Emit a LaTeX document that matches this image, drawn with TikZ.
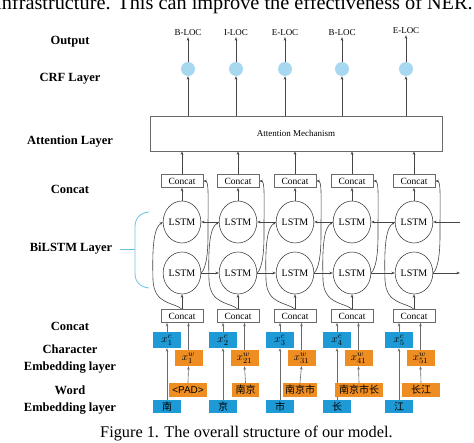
\documentclass[tikz,border=0pt]{standalone}
\usepackage{fontspec}
\setmainfont{Liberation Serif}
\newfontfamily\cjk{Noto Sans CJK SC}
\newfontfamily\sansf{Liberation Sans}
\usetikzlibrary{arrows.meta,backgrounds,shapes.geometric}
\definecolor{cblue}{HTML}{1E9BD7}
\definecolor{corange}{HTML}{EE8E22}
\definecolor{crfc}{HTML}{A8D8F0}
\definecolor{bracec}{HTML}{6EC1E4}
\definecolor{ln}{HTML}{454545}
\definecolor{lng}{HTML}{6A6A6A}
\begin{document}
\begin{tikzpicture}[x=1pt,y=-1pt,
 arr/.style={draw=ln, line width=0.6pt, -{Stealth[length=3.5pt,width=2.6pt]}},
 garr/.style={draw=lng, line width=0.6pt, -{Stealth[length=3.5pt,width=2.6pt]}},
 concatbox/.style={draw=lng, line width=0.6pt, minimum width=42pt, minimum height=13pt, inner sep=0pt, font=\fontsize{9.5}{10}\selectfont, fill=white},
 lstm/.style={ellipse, draw=ln, line width=0.6pt, minimum width=37pt, minimum height=42pt, inner sep=0pt, font=\fontsize{10}{11}\selectfont, fill=white},
 crf/.style={circle, fill=crfc, minimum size=14pt, inner sep=0pt},
 lbl/.style={font=\bfseries\fontsize{12.5}{16.5}\selectfont, align=center, inner sep=0pt},
 charbox/.style={fill=cblue, minimum width=28pt, minimum height=16pt, inner sep=0pt, font=\fontsize{11}{12}\selectfont},
 wordvec/.style={fill=corange, minimum width=28pt, minimum height=16pt, inner sep=0pt, font=\fontsize{11}{12}\selectfont},
 wordbox/.style={fill=corange, minimum height=14pt, inner sep=0pt, font=\cjk\fontsize{10}{11}\selectfont},
 charin/.style={fill=cblue, minimum width=28pt, minimum height=13pt, inner sep=0pt, font=\cjk\fontsize{10}{11}\selectfont},
 tag/.style={font=\fontsize{9}{10}\selectfont, inner sep=1pt},
 attbox/.style={draw=lng, line width=0.6pt, minimum width=292pt, minimum height=35pt, inner sep=0pt, font=\fontsize{9}{10}\selectfont},
 toptxt/.style={font=\fontsize{20.3}{22}\selectfont, inner sep=0pt},
 captxt/.style={font=\fontsize{16.3}{18}\selectfont, inner sep=0pt}
]
\useasboundingbox (0,0) rectangle (474,443);
\begin{scope}
\clip (0,0) rectangle (474,443);
\node[toptxt, anchor=base west] (toptext) at (-4,9.5) {infrastructure. This can improve the effectiveness of NER.};
\end{scope}
\node[captxt, anchor=base west] (caption) at (100,438) {Figure 1. The overall structure of our model.};

% left labels
\node[lbl] (lout) at (70,42) {Output};
\node[lbl] (lcrf) at (70,79) {CRF Layer};
\node[lbl] (latt) at (70,142) {Attention Layer};
\node[lbl] (lcat1) at (70,189) {Concat};
\node[lbl] (lbil) at (71,249) {BiLSTM Layer};
\node[lbl] (lcat2) at (70,326) {Concat};
\node[lbl] (lchar) at (70,359) {Character\\Embedding layer};
\node[lbl] (lword) at (70,400) {Word\\Embedding layer};

% brace
\draw[bracec, line width=0.8pt] (149,212) .. controls (140,213) and (135,218) .. (135,227) -- (135,273) .. controls (135,282) and (140,287) .. (149,288);
\coordinate (bracetip) at (135,249);
\coordinate (bracestub) at (120,249);
\draw[bracec, line width=0.8pt] (bracestub) -- (bracetip);

% attention
\node[attbox] (att) at (296,133.5) {Attention Mechanism};

% CRF and outputs
\foreach \i/\tx/\ty/\lab in {1/188/33/B-LOC, 2/236/33/I-LOC, 3/285/33/E-LOC, 4/342/33/B-LOC, 5/406/31/E-LOC}{
  \node[crf] (crf\i) at (\tx,69) {};
  \node[tag] (out\i) at (\tx,\ty) {\lab};
  \draw[arr] (crf\i.south |- att.north) -- (crf\i);
  \draw[arr] (crf\i) -- (out\i.south);
}

% columns
\foreach \i/\cx/\xw/\ww/\wt/\cs/\ws in {
  1/182/188/38/{\sansf <PAD>}/1/1,
  2/238/245.5/27/南京/2/21,
  3/295/300/34/南京市/3/31,
  4/352/359/48/南京市长/4/41,
  5/414/421/38/长江/5/51}{
  \node[concatbox] (c\i) at (\cx,181) {Concat};
  \node[lstm] (tl\i) at (\cx,222) {LSTM};
  \node[lstm] (bl\i) at (\cx,273) {LSTM};
  \node[concatbox] (bc\i) at (\cx,316) {Concat};
  \node[charbox] (xc\i) at (\cx-15,340) {$x_{\cs}^{c}$};
  \node[wordvec] (xw\i) at (\cx+6.5,358) {$x_{\ws}^{w}$};
  \node[wordbox, minimum width=\ww pt] (wb\i) at (\xw,390) {\wt};
  \node[charin] (ci\i) at (\cx-15,407) {};
}
\node[charin] at (ci1) {南};
\node[charin] at (ci2) {京};
\node[charin] at (ci3) {市};
\node[charin] at (ci4) {长};
\node[charin] at (ci5) {江};

\coordinate (rin) at (460,222);
\coordinate (rout) at (460,273);

\begin{pgfonlayer}{background}
\foreach \i/\cx in {1/182,2/238,3/295,4/352,5/414}{
  \draw[arr] (tl\i.north) -- (c\i.south);
  \draw[arr] (c\i.north) -- (c\i.north |- att.south);
  \draw[arr] (bc\i.north) -- (bl\i.south);
  \coordinate (bv\i) at (\cx-29,280);
  \draw[arr] (bc\i.north) .. controls (\cx-8,302) and (\cx-28,305) .. (bv\i) .. controls (\cx-30,245) and (\cx-28,228) .. (tl\i.west);
  \coordinate (av\i) at (\cx+26,235);
  \draw[arr] (bl\i.east) .. controls (\cx+24,268) and (\cx+26,255) .. (av\i) .. controls (\cx+26,195) and (\cx+27,181) .. (c\i.east);
  \draw[garr] (ci\i.north) -- (xc\i.south);
  \draw[garr] (wb\i.north) -- (xw\i.south);
  \draw[garr] (xc\i.north) -- (xc\i.north |- bc\i.south);
  \draw[garr] (xw\i.north) -- (xw\i.north |- bc\i.south);
}
\foreach \i/\j in {1/2,2/3,3/4,4/5}{
  \draw[arr] (bl\i.east) -- (bl\j.west);
  \draw[arr] (tl\j.west) -- (tl\i.east);
}
\draw[arr] (rin) -- (tl5.east);
\draw[arr] (bl5.east) -- (rout);
\end{pgfonlayer}
\end{tikzpicture}
\end{document}
